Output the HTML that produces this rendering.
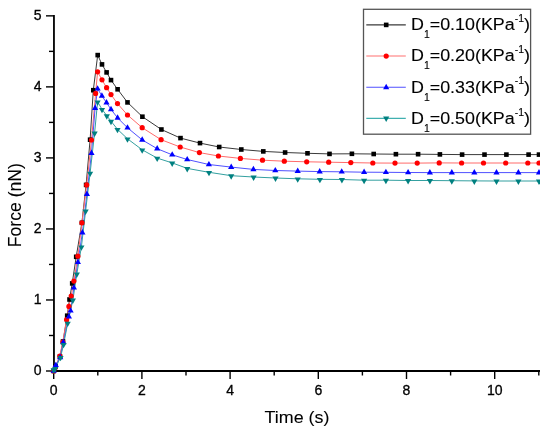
<!DOCTYPE html>
<html><head><meta charset="utf-8"><title>Force vs Time</title>
<style>
html,body{margin:0;padding:0;background:#fff;}
body{width:550px;height:432px;overflow:hidden;}
svg{display:block;filter:blur(0.35px);}
text{font-family:"Liberation Sans",Arial,Helvetica,sans-serif;fill:#000;stroke:#000;stroke-width:0.35px;}
.tk{font-size:14px;stroke-width:0.3px;}
.ti{font-size:17.2px;stroke-width:0.08px;}
.lg{font-size:17.2px;stroke-width:0.12px;}
.ss{font-size:10px;}
</style></head><body>
<svg width="550" height="432" viewBox="0 0 550 432">
<defs><clipPath id="clip"><rect x="0" y="0" width="540" height="432"/></clipPath></defs>
<rect x="0" y="0" width="550" height="432" fill="#fff"/>
<rect x="53.05" y="15" width="1.8" height="357" fill="#000"/>
<rect x="53" y="370" width="487" height="2" fill="#000"/>
<line x1="46" y1="371" x2="54" y2="371" stroke="#000" stroke-width="1.4"/>
<line x1="49" y1="335.49" x2="54" y2="335.49" stroke="#000" stroke-width="1.4"/>
<line x1="46" y1="299.97" x2="54" y2="299.97" stroke="#000" stroke-width="1.4"/>
<line x1="49" y1="264.45" x2="54" y2="264.45" stroke="#000" stroke-width="1.4"/>
<line x1="46" y1="228.94" x2="54" y2="228.94" stroke="#000" stroke-width="1.4"/>
<line x1="49" y1="193.43" x2="54" y2="193.43" stroke="#000" stroke-width="1.4"/>
<line x1="46" y1="157.91" x2="54" y2="157.91" stroke="#000" stroke-width="1.4"/>
<line x1="49" y1="122.39" x2="54" y2="122.39" stroke="#000" stroke-width="1.4"/>
<line x1="46" y1="86.88" x2="54" y2="86.88" stroke="#000" stroke-width="1.4"/>
<line x1="49" y1="51.37" x2="54" y2="51.37" stroke="#000" stroke-width="1.4"/>
<line x1="46" y1="15.85" x2="54" y2="15.85" stroke="#000" stroke-width="1.4"/>
<line x1="53.7" y1="371" x2="53.7" y2="379" stroke="#000" stroke-width="1.4"/>
<line x1="97.8" y1="371" x2="97.8" y2="375.5" stroke="#000" stroke-width="1.4"/>
<line x1="141.9" y1="371" x2="141.9" y2="379" stroke="#000" stroke-width="1.4"/>
<line x1="186" y1="371" x2="186" y2="375.5" stroke="#000" stroke-width="1.4"/>
<line x1="230.1" y1="371" x2="230.1" y2="379" stroke="#000" stroke-width="1.4"/>
<line x1="274.2" y1="371" x2="274.2" y2="375.5" stroke="#000" stroke-width="1.4"/>
<line x1="318.3" y1="371" x2="318.3" y2="379" stroke="#000" stroke-width="1.4"/>
<line x1="362.4" y1="371" x2="362.4" y2="375.5" stroke="#000" stroke-width="1.4"/>
<line x1="406.5" y1="371" x2="406.5" y2="379" stroke="#000" stroke-width="1.4"/>
<line x1="450.6" y1="371" x2="450.6" y2="375.5" stroke="#000" stroke-width="1.4"/>
<line x1="494.7" y1="371" x2="494.7" y2="379" stroke="#000" stroke-width="1.4"/>
<line x1="538.8" y1="371" x2="538.8" y2="375.5" stroke="#000" stroke-width="1.4"/>
<g clip-path="url(#clip)">
<polyline points="53.7,371 55.6,366.5 60,356.5 63,341.5 67.2,315.7 69.5,299.5 72.2,283.4 76.2,256.8 81.9,222.8 86.1,184.9 90.1,139.7 93.3,90.2 97.7,55.1 102,64.4 106.6,72.4 111,80.1 117.6,89.3 127.5,102.4 142.4,116.7 161.4,129.5 180.5,138.1 200,143.1 219.2,147 241.3,149.5 263.3,151.4 285.1,152.5 307.5,153.3 329.5,153.9 351.9,153.8 373.7,154 395.9,154.2 418.1,154.2 439.9,154.4 462.1,154.6 484.5,154.6 506.4,154.6 528.6,154.6 539,154.6" fill="none" stroke="#3a3a3a" stroke-width="1" stroke-linejoin="round"/>
<polyline points="53.7,371 55.4,367.5 59.8,356 62.8,342 66.6,319.7 68.9,306.4 71.2,296 73.9,281.1 77.9,256.2 81.9,222.8 86.7,184.9 91.5,140 95.6,93.4 97.6,71.8 102,79.8 106.6,87.7 111,94.6 117.5,103.6 127.5,115 142.2,127.7 161.1,139.7 180.2,147 199.4,152.6 218.4,156 240.4,158.4 262.5,160.2 284.3,161.2 306.7,161.8 328.7,162.2 350.8,162.6 372.8,163 395,163.1 417.2,163.1 439.2,162.9 461.6,163 483.5,163 505.7,163 527.8,163 539,163" fill="none" stroke="#ff6a6a" stroke-width="1" stroke-linejoin="round"/>
<polyline points="53.7,370.9 55.8,365.3 60.2,357.4 63.3,342.4 68.9,316.6 70.6,310.8 73.9,287.8 77.9,262.3 82.4,232.6 86.9,194.1 91.5,153.1 95.1,108.2 97.6,88.8 101.9,95.9 106.5,102.7 111,109.4 117.6,117.9 127.5,127.8 142.2,139.9 157.2,148.7 172.2,154.8 187.2,159.5 208.9,164.5 231.2,167.1 253.4,169.4 275.3,170.5 297.7,171.1 319.7,171.6 341.7,171.8 364.1,172.2 385.9,172.3 408.1,172.5 429.9,172.6 451.8,172.6 474.3,172.6 496.5,172.6 518.4,172.6 539,172.6" fill="none" stroke="#5050ff" stroke-width="1" stroke-linejoin="round"/>
<polyline points="53.7,369.7 55.3,368.3 60.5,357.3 63.6,344.3 67.7,323.1 72.9,299.9 76.8,274 81.4,246.8 85.6,210.9 90.1,173.1 94.6,132.9 97.6,101.8 102,109.3 106.8,115.7 111,121.2 117.5,129.3 127.5,138.8 142.2,149.8 157.2,158.1 172.2,162.9 187.2,168.4 209,172.3 231.2,175.7 253.6,177 275.5,178 297.7,178.8 319.9,179.3 341.9,179.5 364.1,180.2 385.9,180.2 408.1,180.5 429.9,180.5 451.8,180.7 474.3,180.9 496.5,181 518.4,181 539,181" fill="none" stroke="#33a0a0" stroke-width="1" stroke-linejoin="round"/>
<rect x="51.4" y="368.7" width="4.6" height="4.6" fill="#000000"/>
<rect x="53.3" y="364.2" width="4.6" height="4.6" fill="#000000"/>
<rect x="57.7" y="354.2" width="4.6" height="4.6" fill="#000000"/>
<rect x="60.7" y="339.2" width="4.6" height="4.6" fill="#000000"/>
<rect x="64.9" y="313.4" width="4.6" height="4.6" fill="#000000"/>
<rect x="67.2" y="297.2" width="4.6" height="4.6" fill="#000000"/>
<rect x="69.9" y="281.1" width="4.6" height="4.6" fill="#000000"/>
<rect x="73.9" y="254.5" width="4.6" height="4.6" fill="#000000"/>
<rect x="79.6" y="220.5" width="4.6" height="4.6" fill="#000000"/>
<rect x="83.8" y="182.6" width="4.6" height="4.6" fill="#000000"/>
<rect x="87.8" y="137.4" width="4.6" height="4.6" fill="#000000"/>
<rect x="91" y="87.9" width="4.6" height="4.6" fill="#000000"/>
<rect x="95.4" y="52.8" width="4.6" height="4.6" fill="#000000"/>
<rect x="99.7" y="62.1" width="4.6" height="4.6" fill="#000000"/>
<rect x="104.3" y="70.1" width="4.6" height="4.6" fill="#000000"/>
<rect x="108.7" y="77.8" width="4.6" height="4.6" fill="#000000"/>
<rect x="115.3" y="87" width="4.6" height="4.6" fill="#000000"/>
<rect x="125.2" y="100.1" width="4.6" height="4.6" fill="#000000"/>
<rect x="140.1" y="114.4" width="4.6" height="4.6" fill="#000000"/>
<rect x="159.1" y="127.2" width="4.6" height="4.6" fill="#000000"/>
<rect x="178.2" y="135.8" width="4.6" height="4.6" fill="#000000"/>
<rect x="197.7" y="140.8" width="4.6" height="4.6" fill="#000000"/>
<rect x="216.9" y="144.7" width="4.6" height="4.6" fill="#000000"/>
<rect x="239" y="147.2" width="4.6" height="4.6" fill="#000000"/>
<rect x="261" y="149.1" width="4.6" height="4.6" fill="#000000"/>
<rect x="282.8" y="150.2" width="4.6" height="4.6" fill="#000000"/>
<rect x="305.2" y="151" width="4.6" height="4.6" fill="#000000"/>
<rect x="327.2" y="151.6" width="4.6" height="4.6" fill="#000000"/>
<rect x="349.6" y="151.5" width="4.6" height="4.6" fill="#000000"/>
<rect x="371.4" y="151.7" width="4.6" height="4.6" fill="#000000"/>
<rect x="393.6" y="151.9" width="4.6" height="4.6" fill="#000000"/>
<rect x="415.8" y="151.9" width="4.6" height="4.6" fill="#000000"/>
<rect x="437.6" y="152.1" width="4.6" height="4.6" fill="#000000"/>
<rect x="459.8" y="152.3" width="4.6" height="4.6" fill="#000000"/>
<rect x="482.2" y="152.3" width="4.6" height="4.6" fill="#000000"/>
<rect x="504.1" y="152.3" width="4.6" height="4.6" fill="#000000"/>
<rect x="526.3" y="152.3" width="4.6" height="4.6" fill="#000000"/>
<rect x="536.7" y="152.3" width="4.6" height="4.6" fill="#000000"/>
<circle cx="53.7" cy="371" r="2.6" fill="#ff0000"/>
<circle cx="55.4" cy="367.5" r="2.6" fill="#ff0000"/>
<circle cx="59.8" cy="356" r="2.6" fill="#ff0000"/>
<circle cx="62.8" cy="342" r="2.6" fill="#ff0000"/>
<circle cx="66.6" cy="319.7" r="2.6" fill="#ff0000"/>
<circle cx="68.9" cy="306.4" r="2.6" fill="#ff0000"/>
<circle cx="71.2" cy="296" r="2.6" fill="#ff0000"/>
<circle cx="73.9" cy="281.1" r="2.6" fill="#ff0000"/>
<circle cx="77.9" cy="256.2" r="2.6" fill="#ff0000"/>
<circle cx="81.9" cy="222.8" r="2.6" fill="#ff0000"/>
<circle cx="86.7" cy="184.9" r="2.6" fill="#ff0000"/>
<circle cx="91.5" cy="140" r="2.6" fill="#ff0000"/>
<circle cx="95.6" cy="93.4" r="2.6" fill="#ff0000"/>
<circle cx="97.6" cy="71.8" r="2.6" fill="#ff0000"/>
<circle cx="102" cy="79.8" r="2.6" fill="#ff0000"/>
<circle cx="106.6" cy="87.7" r="2.6" fill="#ff0000"/>
<circle cx="111" cy="94.6" r="2.6" fill="#ff0000"/>
<circle cx="117.5" cy="103.6" r="2.6" fill="#ff0000"/>
<circle cx="127.5" cy="115" r="2.6" fill="#ff0000"/>
<circle cx="142.2" cy="127.7" r="2.6" fill="#ff0000"/>
<circle cx="161.1" cy="139.7" r="2.6" fill="#ff0000"/>
<circle cx="180.2" cy="147" r="2.6" fill="#ff0000"/>
<circle cx="199.4" cy="152.6" r="2.6" fill="#ff0000"/>
<circle cx="218.4" cy="156" r="2.6" fill="#ff0000"/>
<circle cx="240.4" cy="158.4" r="2.6" fill="#ff0000"/>
<circle cx="262.5" cy="160.2" r="2.6" fill="#ff0000"/>
<circle cx="284.3" cy="161.2" r="2.6" fill="#ff0000"/>
<circle cx="306.7" cy="161.8" r="2.6" fill="#ff0000"/>
<circle cx="328.7" cy="162.2" r="2.6" fill="#ff0000"/>
<circle cx="350.8" cy="162.6" r="2.6" fill="#ff0000"/>
<circle cx="372.8" cy="163" r="2.6" fill="#ff0000"/>
<circle cx="395" cy="163.1" r="2.6" fill="#ff0000"/>
<circle cx="417.2" cy="163.1" r="2.6" fill="#ff0000"/>
<circle cx="439.2" cy="162.9" r="2.6" fill="#ff0000"/>
<circle cx="461.6" cy="163" r="2.6" fill="#ff0000"/>
<circle cx="483.5" cy="163" r="2.6" fill="#ff0000"/>
<circle cx="505.7" cy="163" r="2.6" fill="#ff0000"/>
<circle cx="527.8" cy="163" r="2.6" fill="#ff0000"/>
<circle cx="539" cy="163" r="2.6" fill="#ff0000"/>
<polygon points="53.7,367.3 56.8,372.7 50.6,372.7" fill="#0000ff"/>
<polygon points="55.8,361.7 58.9,367.1 52.7,367.1" fill="#0000ff"/>
<polygon points="60.2,353.8 63.3,359.2 57.1,359.2" fill="#0000ff"/>
<polygon points="63.3,338.8 66.4,344.2 60.2,344.2" fill="#0000ff"/>
<polygon points="68.9,313 72,318.4 65.8,318.4" fill="#0000ff"/>
<polygon points="70.6,307.2 73.7,312.6 67.5,312.6" fill="#0000ff"/>
<polygon points="73.9,284.2 77,289.6 70.8,289.6" fill="#0000ff"/>
<polygon points="77.9,258.7 81,264.1 74.8,264.1" fill="#0000ff"/>
<polygon points="82.4,229 85.5,234.4 79.3,234.4" fill="#0000ff"/>
<polygon points="86.9,190.5 90,195.9 83.8,195.9" fill="#0000ff"/>
<polygon points="91.5,149.5 94.6,154.9 88.4,154.9" fill="#0000ff"/>
<polygon points="95.1,104.6 98.2,110 92,110" fill="#0000ff"/>
<polygon points="97.6,85.2 100.7,90.6 94.5,90.6" fill="#0000ff"/>
<polygon points="101.9,92.3 105,97.7 98.8,97.7" fill="#0000ff"/>
<polygon points="106.5,99.1 109.6,104.5 103.4,104.5" fill="#0000ff"/>
<polygon points="111,105.8 114.1,111.2 107.9,111.2" fill="#0000ff"/>
<polygon points="117.6,114.3 120.7,119.7 114.5,119.7" fill="#0000ff"/>
<polygon points="127.5,124.2 130.6,129.6 124.4,129.6" fill="#0000ff"/>
<polygon points="142.2,136.3 145.3,141.7 139.1,141.7" fill="#0000ff"/>
<polygon points="157.2,145.1 160.3,150.5 154.1,150.5" fill="#0000ff"/>
<polygon points="172.2,151.2 175.3,156.6 169.1,156.6" fill="#0000ff"/>
<polygon points="187.2,155.9 190.3,161.3 184.1,161.3" fill="#0000ff"/>
<polygon points="208.9,160.9 212,166.3 205.8,166.3" fill="#0000ff"/>
<polygon points="231.2,163.5 234.3,168.9 228.1,168.9" fill="#0000ff"/>
<polygon points="253.4,165.8 256.5,171.2 250.3,171.2" fill="#0000ff"/>
<polygon points="275.3,166.9 278.4,172.3 272.2,172.3" fill="#0000ff"/>
<polygon points="297.7,167.5 300.8,172.9 294.6,172.9" fill="#0000ff"/>
<polygon points="319.7,168 322.8,173.4 316.6,173.4" fill="#0000ff"/>
<polygon points="341.7,168.2 344.8,173.6 338.6,173.6" fill="#0000ff"/>
<polygon points="364.1,168.6 367.2,174 361,174" fill="#0000ff"/>
<polygon points="385.9,168.7 389,174.1 382.8,174.1" fill="#0000ff"/>
<polygon points="408.1,168.9 411.2,174.3 405,174.3" fill="#0000ff"/>
<polygon points="429.9,169 433,174.4 426.8,174.4" fill="#0000ff"/>
<polygon points="451.8,169 454.9,174.4 448.7,174.4" fill="#0000ff"/>
<polygon points="474.3,169 477.4,174.4 471.2,174.4" fill="#0000ff"/>
<polygon points="496.5,169 499.6,174.4 493.4,174.4" fill="#0000ff"/>
<polygon points="518.4,169 521.5,174.4 515.3,174.4" fill="#0000ff"/>
<polygon points="539,169 542.1,174.4 535.9,174.4" fill="#0000ff"/>
<polygon points="53.7,373.7 56.8,368.3 50.6,368.3" fill="#008080"/>
<polygon points="55.3,372.3 58.4,366.9 52.2,366.9" fill="#008080"/>
<polygon points="60.5,361.3 63.6,355.9 57.4,355.9" fill="#008080"/>
<polygon points="63.6,348.3 66.7,342.9 60.5,342.9" fill="#008080"/>
<polygon points="67.7,327.1 70.8,321.7 64.6,321.7" fill="#008080"/>
<polygon points="72.9,303.9 76,298.5 69.8,298.5" fill="#008080"/>
<polygon points="76.8,278 79.9,272.6 73.7,272.6" fill="#008080"/>
<polygon points="81.4,250.8 84.5,245.4 78.3,245.4" fill="#008080"/>
<polygon points="85.6,214.9 88.7,209.5 82.5,209.5" fill="#008080"/>
<polygon points="90.1,177.1 93.2,171.7 87,171.7" fill="#008080"/>
<polygon points="94.6,136.9 97.7,131.5 91.5,131.5" fill="#008080"/>
<polygon points="97.6,105.8 100.7,100.4 94.5,100.4" fill="#008080"/>
<polygon points="102,113.3 105.1,107.9 98.9,107.9" fill="#008080"/>
<polygon points="106.8,119.7 109.9,114.3 103.7,114.3" fill="#008080"/>
<polygon points="111,125.2 114.1,119.8 107.9,119.8" fill="#008080"/>
<polygon points="117.5,133.3 120.6,127.9 114.4,127.9" fill="#008080"/>
<polygon points="127.5,142.8 130.6,137.4 124.4,137.4" fill="#008080"/>
<polygon points="142.2,153.8 145.3,148.4 139.1,148.4" fill="#008080"/>
<polygon points="157.2,162.1 160.3,156.7 154.1,156.7" fill="#008080"/>
<polygon points="172.2,166.9 175.3,161.5 169.1,161.5" fill="#008080"/>
<polygon points="187.2,172.4 190.3,167 184.1,167" fill="#008080"/>
<polygon points="209,176.3 212.1,170.9 205.9,170.9" fill="#008080"/>
<polygon points="231.2,179.7 234.3,174.3 228.1,174.3" fill="#008080"/>
<polygon points="253.6,181 256.7,175.6 250.5,175.6" fill="#008080"/>
<polygon points="275.5,182 278.6,176.6 272.4,176.6" fill="#008080"/>
<polygon points="297.7,182.8 300.8,177.4 294.6,177.4" fill="#008080"/>
<polygon points="319.9,183.3 323,177.9 316.8,177.9" fill="#008080"/>
<polygon points="341.9,183.5 345,178.1 338.8,178.1" fill="#008080"/>
<polygon points="364.1,184.2 367.2,178.8 361,178.8" fill="#008080"/>
<polygon points="385.9,184.2 389,178.8 382.8,178.8" fill="#008080"/>
<polygon points="408.1,184.5 411.2,179.1 405,179.1" fill="#008080"/>
<polygon points="429.9,184.5 433,179.1 426.8,179.1" fill="#008080"/>
<polygon points="451.8,184.7 454.9,179.3 448.7,179.3" fill="#008080"/>
<polygon points="474.3,184.9 477.4,179.5 471.2,179.5" fill="#008080"/>
<polygon points="496.5,185 499.6,179.6 493.4,179.6" fill="#008080"/>
<polygon points="518.4,185 521.5,179.6 515.3,179.6" fill="#008080"/>
<polygon points="539,185 542.1,179.6 535.9,179.6" fill="#008080"/>
</g>
<text x="41.6" y="375" text-anchor="end" class="tk">0</text>
<text x="41.6" y="303.97" text-anchor="end" class="tk">1</text>
<text x="41.6" y="232.94" text-anchor="end" class="tk">2</text>
<text x="41.6" y="161.91" text-anchor="end" class="tk">3</text>
<text x="41.6" y="90.88" text-anchor="end" class="tk">4</text>
<text x="41.6" y="19.85" text-anchor="end" class="tk">5</text>
<text x="53.7" y="394.6" text-anchor="middle" class="tk">0</text>
<text x="141.9" y="394.6" text-anchor="middle" class="tk">2</text>
<text x="230.1" y="394.6" text-anchor="middle" class="tk">4</text>
<text x="318.3" y="394.6" text-anchor="middle" class="tk">6</text>
<text x="406.5" y="394.6" text-anchor="middle" class="tk">8</text>
<text x="494.7" y="394.6" text-anchor="middle" class="tk">10</text>
<text transform="translate(264.6,423) scale(1.04,1)" x="0" y="0" class="ti">Time (s)</text>
<text transform="translate(20.8,247.2) rotate(-90)" x="0" y="0" class="ti" style="font-size:17.6px">Force (nN)</text>
<rect x="363.5" y="9.3" width="167.1" height="124.9" fill="#fff" stroke="#555" stroke-width="1.3"/>
<line x1="366.3" y1="24.9" x2="405.8" y2="24.9" stroke="#3a3a3a" stroke-width="1.1"/>
<rect x="383.9" y="22.6" width="4.6" height="4.6" fill="#000000"/>
<text transform="translate(411.03,30.1) scale(1.04,1)" class="lg">D<tspan class="ss" dy="7.8">1</tspan><tspan dy="-7.8">=0.10(KPa</tspan><tspan class="ss" dy="-8.5">-1</tspan><tspan dy="8.5">)</tspan></text>
<line x1="366.3" y1="56.07" x2="405.8" y2="56.07" stroke="#ff7070" stroke-width="1.1"/>
<circle cx="386.2" cy="56.07" r="2.6" fill="#ff0000"/>
<text transform="translate(411.03,61.45) scale(1.04,1)" class="lg">D<tspan class="ss" dy="7.8">1</tspan><tspan dy="-7.8">=0.20(KPa</tspan><tspan class="ss" dy="-8.5">-1</tspan><tspan dy="8.5">)</tspan></text>
<line x1="366.3" y1="87.24" x2="405.8" y2="87.24" stroke="#5050ff" stroke-width="1.1"/>
<polygon points="386.2,83.74 389.3,89.14 383.1,89.14" fill="#0000ff"/>
<text transform="translate(411.03,92.8) scale(1.04,1)" class="lg">D<tspan class="ss" dy="7.8">1</tspan><tspan dy="-7.8">=0.33(KPa</tspan><tspan class="ss" dy="-8.5">-1</tspan><tspan dy="8.5">)</tspan></text>
<line x1="366.3" y1="118.41" x2="405.8" y2="118.41" stroke="#40b0b0" stroke-width="1.1"/>
<polygon points="386.2,121.91 389.3,116.51 383.1,116.51" fill="#008080"/>
<text transform="translate(411.03,124.15) scale(1.04,1)" class="lg">D<tspan class="ss" dy="7.8">1</tspan><tspan dy="-7.8">=0.50(KPa</tspan><tspan class="ss" dy="-8.5">-1</tspan><tspan dy="8.5">)</tspan></text>
</svg>
</body></html>
